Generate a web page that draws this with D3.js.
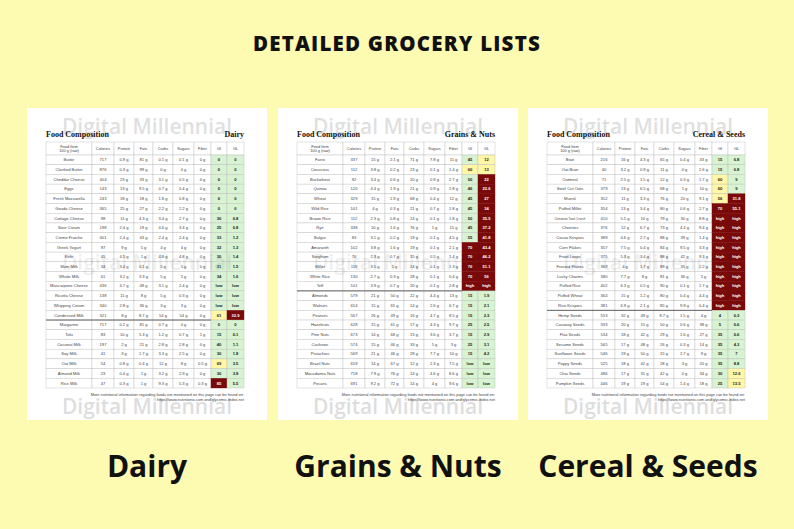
<!DOCTYPE html>
<html><head><meta charset="utf-8">
<script src="https://cdn.jsdelivr.net/npm/d3@7"></script>
<style>body{margin:0;background:#fdfbb2}svg{display:block}</style>
</head><body><svg id="c" width="794" height="529"></svg>
<script>
const headers = ["Food Item|100 g (raw)","Calories","Protein","Fats","Carbs","Sugars","Fiber","GI","GL"];
const dairyRows = [
["Butter",717,"0.9 g","81 g","0.1 g","0.1 g","0 g","0","0"],
["Clarified Butter",876,"0.3 g","99 g","0 g","0 g","0 g","0","0"],
["Cheddar Cheese",404,"23 g","33 g","3.1 g","0.5 g","0 g","0","0"],
["Eggs",143,"13 g","9.5 g","0.7 g","0.4 g","0 g","0","0"],
["Fresh Mozzarella",243,"18 g","18 g","1.8 g","0.8 g","0 g","0","0"],
["Gouda Cheese",365,"25 g","27 g","2.2 g","2.2 g","0 g","0","0"],
["Cottage Cheese",98,"11 g","4.3 g","3.4 g","2.7 g","0 g","30","0.8"],
["Sour Cream",198,"2.4 g","19 g","4.6 g","3.4 g","0 g","25","0.8"],
["Creme Fraiche",401,"2.4 g","43 g","2.4 g","2.4 g","0 g","33","1.2"],
["Greek Yogurt",97,"9 g","5 g","4 g","4 g","0 g","32","1.3"],
["Kefir",45,"4.5 g","1 g","4.8 g","4.8 g","0 g","30","1.4"],
["Skim Milk",34,"3.4 g","0.1 g","5 g","5 g","0 g","31","1.5"],
["Whole Milk",61,"3.2 g","3.3 g","5 g","5 g","0 g","34","1.6"],
["Mascarpone Cheese",436,"4.7 g","48 g","3.1 g","2.4 g","0 g","low","low"],
["Ricotta Cheese",138,"11 g","8 g","5 g","0.3 g","0 g","low","low"],
["Whipping Cream",340,"2.8 g","36 g","3 g","3 g","0 g","low","low"],
["Condensed Milk",321,"8 g","8.7 g","54 g","54 g","0 g","61","32.9"],
["Margarine",717,"0.2 g","81 g","0.7 g","0 g","0 g","0","0"],
["Tofu",83,"10 g","5.3 g","1.2 g","0.7 g","1 g","15","0.1"],
["Coconut Milk",197,"2 g","21 g","2.8 g","2.8 g","0 g","40","1.1"],
["Soy Milk",41,"3 g","1.7 g","3.3 g","2.5 g","0 g","30","1.8"],
["Oat Milk",54,"0.8 g","0.4 g","12 g","8 g","0.5 g","69","3.5"],
["Almond Milk",23,"0.4 g","1 g","3.2 g","2.9 g","0 g","30","3.8"],
["Rice Milk",47,"0.3 g","1 g","9.3 g","5.3 g","0.3 g","85","5.5"]];
const grainRows = [
["Farro",337,"15 g","2.1 g","71 g","7.8 g","11 g","45","12"],
["Couscous",112,"3.8 g","0.2 g","23 g","0.1 g","1.4 g","60","13"],
["Buckwheat",92,"3.4 g","0.6 g","20 g","0.9 g","2.7 g","50","22"],
["Quinoa",120,"4.4 g","1.9 g","21 g","0.9 g","2.8 g","46","22.6"],
["Wheat",329,"15 g","1.9 g","68 g","0.4 g","12 g","45","27"],
["Wild Rice",101,"4 g","0.3 g","21 g","0.7 g","1.8 g","45","34"],
["Brown Rice",112,"2.3 g","0.8 g","24 g","0.1 g","1.8 g","50","35.5"],
["Rye",338,"10 g","1.6 g","76 g","1 g","15 g","45","37.2"],
["Bulgur",83,"3.1 g","0.2 g","19 g","0.1 g","4.5 g","55","41.8"],
["Amaranth",102,"3.8 g","1.6 g","19 g","0.1 g","2.1 g","70","43.4"],
["Sorghum",70,"2.3 g","0.7 g","15 g","0.5 g","1.4 g","70","46.2"],
["Millet",119,"3.5 g","1 g","24 g","0.1 g","1.3 g","70","51.1"],
["White Rice",130,"2.7 g","0.3 g","28 g","0.1 g","0.4 g","70","56"],
["Teff",101,"3.9 g","0.7 g","20 g","0.1 g","2.8 g","high","high"],
["Almonds",579,"21 g","50 g","22 g","4.4 g","13 g","15","1.9"],
["Walnuts",654,"15 g","65 g","14 g","2.6 g","6.7 g","15","2.1"],
["Peanuts",567,"26 g","49 g","16 g","4.7 g","8.5 g","15","2.3"],
["Hazelnuts",628,"15 g","61 g","17 g","4.3 g","9.7 g","25","2.5"],
["Pine Nuts",673,"14 g","68 g","13 g","3.6 g","3.7 g","15","2.9"],
["Cashews",574,"15 g","46 g","33 g","5 g","3 g","25","3.1"],
["Pistachios",569,"21 g","46 g","28 g","7.7 g","10 g","15","4.2"],
["Brazil Nuts",659,"14 g","67 g","12 g","2.3 g","7.5 g","low","low"],
["Macadamia Nuts",718,"7.9 g","76 g","14 g","4.6 g","8.6 g","low","low"],
["Pecans",691,"9.2 g","72 g","14 g","4 g","9.6 g","low","low"]];
const cerealRows = [
["Bran",216,"16 g","4.3 g","65 g","0.4 g","43 g","15","6.8"],
["Oat Bran",40,"3.2 g","0.9 g","11 g","0 g","2.6 g","15","6.8"],
["Oatmeal",71,"2.5 g","1.5 g","12 g","0.3 g","1.7 g","60","9"],
["Steel Cut Oats",379,"13 g","6.5 g","68 g","1 g","10 g","60","9"],
["Muesli",352,"11 g","3.3 g","76 g","20 g","9.1 g","56","31.8"],
["Puffed Millet",354,"13 g","3.4 g","80 g","0.6 g","2.7 g","70","55.1"],
["Cinnamon Toast Crunch",410,"5.5 g","10 g","79 g","30 g","8.8 g","high","high"],
["Cheerios",376,"12 g","6.7 g","73 g","4.4 g","9.4 g","high","high"],
["Cocoa Krispies",389,"4.6 g","2.7 g","88 g","39 g","1.4 g","high","high"],
["Corn Flakes",357,"7.5 g","0.4 g","84 g","9.5 g","3.3 g","high","high"],
["Froot Loops",375,"5.3 g","3.4 g","88 g","42 g","9.3 g","high","high"],
["Frosted Flakes",369,"4 g","1.7 g","89 g","35 g","2.2 g","high","high"],
["Lucky Charms",380,"7.7 g","8 g","81 g","36 g","5 g","high","high"],
["Puffed Rice",402,"6.3 g","0.5 g","90 g","0.1 g","1.7 g","high","high"],
["Puffed Wheat",364,"15 g","1.2 g","80 g","0.4 g","4.4 g","high","high"],
["Rice Krispies",381,"6.9 g","2.1 g","85 g","9.9 g","0.4 g","high","high"],
["Hemp Seeds",553,"32 g","49 g","8.7 g","1.5 g","4 g","4","0.3"],
["Caraway Seeds",333,"20 g","15 g","50 g","0.6 g","38 g","5","0.6"],
["Flax Seeds",534,"18 g","42 g","29 g","1.6 g","27 g","35","0.6"],
["Sesame Seeds",565,"17 g","48 g","26 g","0.3 g","14 g","35","4.3"],
["Sunflower Seeds",546,"19 g","50 g","15 g","2.7 g","9 g","35","7"],
["Poppy Seeds",525,"18 g","42 g","28 g","3 g","20 g","35","8.8"],
["Chia Seeds",486,"17 g","31 g","42 g","0 g","34 g","30","12.6"],
["Pumpkin Seeds",446,"19 g","19 g","54 g","1.4 g","18 g","25","13.5"]];
const tables = [
 {name:"Dairy", label:"Dairy", rows:dairyRows, sep:17},
 {name:"Grains & Nuts", label:"Grains & Nuts", rows:grainRows, sep:14},
 {name:"Cereal & Seeds", label:"Cereal & Seeds", rows:cerealRows, sep:16}];

const svg = d3.select("#c");
svg.append("rect").attr("width",794).attr("height",529).attr("fill","#fdfbb2");
svg.append("text").attr("x",397).attr("y",51).attr("text-anchor","middle")
 .attr("font-family","Open Sans").attr("font-weight",800).attr("font-size",20.5)
 .attr("letter-spacing",1.2).attr("fill","#111").text("DETAILED GROCERY LISTS");

function giCat(v){ if(v==="low")return 0; if(v==="high")return 2; v=+v; return v<=55?0:v<70?1:2;}
function glCat(v){ if(v==="low")return 0; if(v==="high")return 2; v=+v; return v<=10?0:v<20?1:2;}
const fills=["#d8f3d2","#fff6a6","#7a0a0a"];
const colW=[46,22,20,19,20,21,17,16,17];
const cardX = d3.scaleOrdinal().domain(tables.map(t=>t.name)).range([27,278,528]);

tables.forEach(t=>{
 const cx=cardX(t.name), g=svg.append("g");
 g.append("rect").attr("x",cx).attr("y",108).attr("width",240).attr("height",312).attr("fill","#fff");
 const cxm=cx+120;
 const wm=(y,s,o)=>g.append("text").attr("x",cxm).attr("y",y).attr("text-anchor","middle")
   .attr("font-family","Open Sans").attr("font-weight",600).attr("font-size",s).attr("fill","#000").attr("opacity",o).text("Digital Millennial");
 wm(134,21,0.12);
 const tx=cx+19, ty0=142, ty1=155, tbot=388;
 const edges=[tx]; colW.forEach(w=>edges.push(edges[edges.length-1]+w));
 const y=d3.scaleBand().domain(d3.range(t.rows.length)).range([ty1,tbot]);
 g.append("text").attr("x",tx).attr("y",137).attr("font-family","Liberation Serif").attr("font-weight",700).attr("font-size",8).attr("fill","#111").text("Food Composition");
 g.append("text").attr("x",edges[9]).attr("y",137).attr("text-anchor","end").attr("font-family","Liberation Serif").attr("font-weight",700).attr("font-size",8).attr("fill","#111").text(t.name);
 headers.forEach((h,i)=>{
  g.append("rect").attr("x",edges[i]).attr("y",ty0).attr("width",colW[i]).attr("height",ty1-ty0).attr("fill","#fff").attr("stroke","#bbb").attr("stroke-width",0.4);
  const parts=h.split("|");
  parts.forEach((p,k)=>g.append("text").attr("x",edges[i]+colW[i]/2).attr("y",ty0+(parts.length>1?5.5+k*4.6:8.3))
   .attr("text-anchor","middle").attr("font-family","Liberation Sans").attr("font-size",3.9).attr("fill","#444").text(p));
 });
 t.rows.forEach((r,ri)=>{
  r.forEach((v,i)=>{
   let fill="#fff",col="#444",bold=false;
   if(i===7){const c=giCat(v);fill=fills[c];col=c===2?"#fff":"#222";bold=true;}
   if(i===8){const c=glCat(v);fill=fills[c];col=c===2?"#fff":"#222";bold=true;}
   g.append("rect").attr("x",edges[i]).attr("y",y(ri)).attr("width",colW[i]).attr("height",y.bandwidth())
    .attr("fill",fill).attr("stroke",fill==="#7a0a0a"?"#7a0a0a":"#bbb").attr("stroke-width",0.4);
   const fs=(i===0&&String(v).length>18)?2.9:4.1;
   g.append("text").attr("x",edges[i]+colW[i]/2).attr("y",y(ri)+y.bandwidth()/2+1.4)
    .attr("text-anchor","middle").attr("font-family","Liberation Sans").attr("font-size",fs)
    .attr("font-weight",bold?700:400).attr("fill",col).text(v);
  });
 });
 g.append("line").attr("x1",edges[0]).attr("x2",edges[7]).attr("y1",y(t.sep)).attr("y2",y(t.sep)).attr("stroke","#555").attr("stroke-width",0.9);
 g.append("text").attr("x",edges[9]).attr("y",396).attr("text-anchor","end").attr("font-family","Liberation Sans").attr("font-size",3.9).attr("fill","#444")
  .text("More nutritional information regarding foods not mentioned on this page can be found on:");
 g.append("text").attr("x",edges[9]).attr("y",401).attr("text-anchor","end").attr("font-family","Liberation Sans").attr("font-size",3.9).attr("fill","#444")
  .text("https://www.nutritionix.com and glycemic-index.net");
 wm(270,21,0.06);
 wm(414,21,0.13);
 svg.append("text").attr("x",cxm).attr("y",477).attr("text-anchor","middle").attr("font-family","Open Sans")
  .attr("font-weight",700).attr("font-size",30).attr("fill","#111").text(t.label);
});
</script></body></html>
